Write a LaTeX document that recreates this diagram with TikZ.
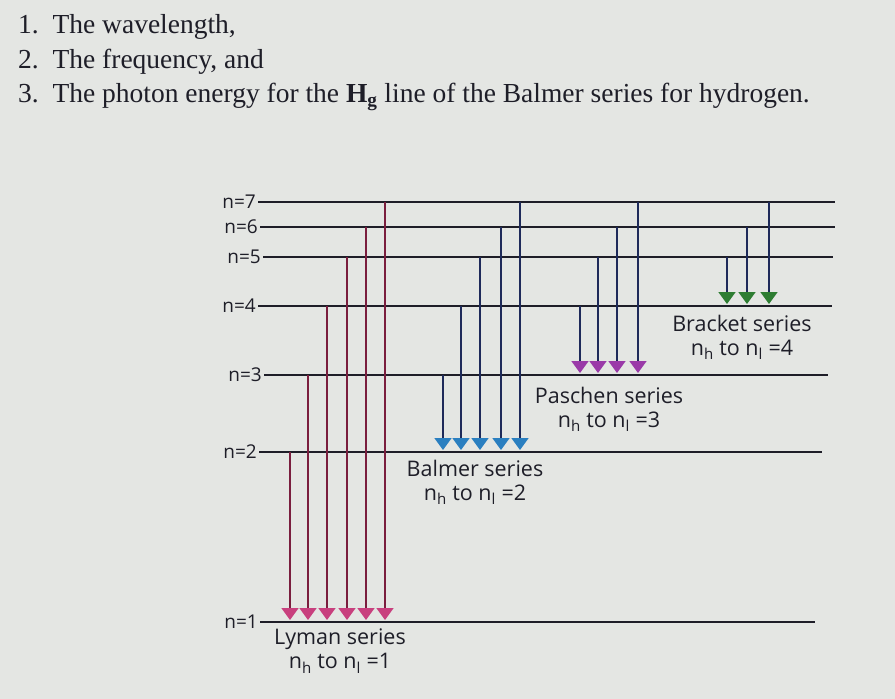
\documentclass[tikz,border=0pt]{standalone}
\usepackage{fontspec}
\setmainfont{Liberation Serif}
\newfontfamily\diag{Open Sans}
\usetikzlibrary{arrows.meta}
\definecolor{bg}{HTML}{E4E6E3}
\definecolor{lyl}{HTML}{7A1E3E}
\definecolor{lyh}{HTML}{C8407E}
\definecolor{bal}{HTML}{1E2A5A}
\definecolor{bah}{HTML}{2A7FC0}
\definecolor{pah}{HTML}{9A3AA8}
\definecolor{brh}{HTML}{2E7D32}
\definecolor{ink}{HTML}{1E1E28}
\begin{document}
\begin{tikzpicture}[x=1pt,y=-1pt,
  level/.style={draw=ink,line width=1.6pt},
  lab/.style={font=\diag\fontsize{19}{19}\selectfont,anchor=east,text=ink,inner sep=2pt},
  ser/.style={font=\diag\fontsize{21.5}{24}\selectfont,text=ink,align=center},
  trans/.style={line width=1.8pt,-{Triangle[width=17pt,length=12pt,color=#1]}},
  ly/.style={trans=lyh,draw=lyl},
  ba/.style={trans=bah,draw=bal},
  pa/.style={trans=pah,draw=bal},
  br/.style={trans=brh,draw=bal},
  q/.style={anchor=west,font=\fontsize{27.5}{27.5}\selectfont,text=ink,inner sep=0pt}]
\fill[bg] (0,0) rectangle (895,699);
\node[q] (q1) at (18,27) {1.\ \ The wavelength,};
\node[q] (q2) at (18,62) {2.\ \ The frequency, and};
\node[q] (q3) at (18,97) {3.\ \ The photon energy for the $\mathbf{H}_{\mathbf{g}}$ line of the Balmer series for hydrogen.};
% levels
\foreach \n/\y/\xa/\xb in {7/202/258/835,6/227/260/835,5/257/263/833,4/306/258/832,3/375/264/828,2/452/259/822,1/622/260/815}{
  \node[lab] (l\n) at (\xa,\y) {n=\n};
  \draw[level] (\xa,\y) coordinate (a\n) -- (\xb,\y) coordinate (b\n);
}
% Lyman
\foreach \x/\y in {290/452,308/375,327/306,347/257,366/227,385/202}
  \draw[ly] (\x,\y) -- (\x,620);
% Balmer
\foreach \x/\y in {443/375,461/306,480/257,501/227,520/202}
  \draw[ba] (\x,\y) -- (\x,450);
% Paschen
\foreach \x/\y in {580/306,598/257,617/227,638/202}
  \draw[pa] (\x,\y) -- (\x,373);
% Brackett
\foreach \x/\y in {727/257,747/227,769/202}
  \draw[br] (\x,\y) -- (\x,304);
\node[ser] (brs) at (742,337) {Bracket series\\n\textsubscript{h} to n\textsubscript{l} =4};
\node[ser] (pas) at (609,409) {Paschen series\\n\textsubscript{h} to n\textsubscript{l} =3};
\node[ser] (bas) at (475,482) {Balmer series\\n\textsubscript{h} to n\textsubscript{l} =2};
\node[ser] (lys) at (340,651) {Lyman series\\n\textsubscript{h} to n\textsubscript{l} =1};
\end{tikzpicture}
\end{document}
